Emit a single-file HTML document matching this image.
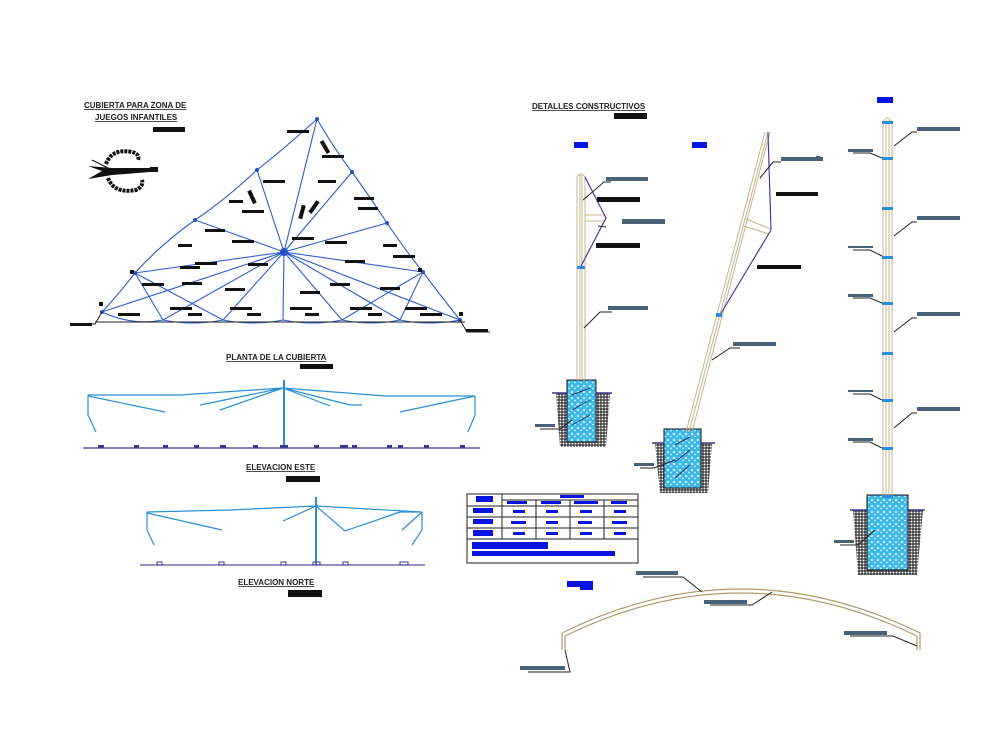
<!DOCTYPE html>
<html><head><meta charset="utf-8"><style>
html,body{margin:0;padding:0;background:#fff;}
svg{display:block;}
text{font-family:"Liberation Sans",sans-serif;font-weight:bold;font-size:8px;fill:#222;text-decoration:underline;}
</style></head><body>
<svg width="1000" height="751" viewBox="0 0 1000 751" xmlns="http://www.w3.org/2000/svg">
<defs>
<pattern id="soil" width="3" height="3" patternUnits="userSpaceOnUse"><rect width="3" height="3" fill="#888"/><circle cx="1" cy="1" r="0.9" fill="#222"/><circle cx="2.5" cy="2.5" r="0.6" fill="#fff"/></pattern>
<pattern id="conc" width="6" height="6" patternUnits="userSpaceOnUse"><rect width="6" height="6" fill="#3ab7ea"/><circle cx="2" cy="2" r="1.3" fill="#bfeaff"/><circle cx="5" cy="4.5" r="0.9" fill="#e6f7ff"/></pattern>
</defs>

<!-- Titles -->
<text x="84" y="108">CUBIERTA PARA ZONA DE</text>
<text x="95" y="120">JUEGOS INFANTILES</text>
<rect x="153" y="127" width="32" height="5" fill="#111"/>
<text x="532" y="109">DETALLES CONSTRUCTIVOS</text>
<rect x="614" y="113" width="33" height="6" fill="#111"/>
<text x="226" y="360">PLANTA DE LA CUBIERTA</text>
<rect x="300" y="364" width="33" height="5" fill="#111"/>
<text x="246" y="470">ELEVACION ESTE</text>
<rect x="286" y="476" width="34" height="6" fill="#111"/>
<text x="238" y="585">ELEVACION NORTE</text>
<rect x="288" y="590" width="34" height="7" fill="#111"/>

<!-- Compass -->
<g>
<path d="M88 166 L102 171 L88 179 L112 175 L150 172 L150 168 L112 168 Z" fill="#111"/>
<rect x="150" y="167" width="8" height="5" fill="#111"/>
<path d="M92 160 L112 170" stroke="#111" stroke-width="1"/>
<path d="M106 164 Q112 148 132 152 Q140 154 138 160" fill="none" stroke="#111" stroke-width="4" stroke-dasharray="3 1"/>
<path d="M108 178 Q114 194 136 190 Q144 186 142 180" fill="none" stroke="#111" stroke-width="4" stroke-dasharray="3 1"/>
</g>

<!-- Triangle plan -->
<g stroke="#2d5fcc" stroke-width="1.1" fill="none">
<path d="M317 119 Q285 148 257 170 Q225 200 195 220 Q160 245 135 273 Q118 295 102 312"/>
<path d="M317 119 Q335 150 352 172 Q372 200 387 223 Q405 250 423 272 Q440 295 460 320"/>
<path d="M102 312 Q132 326 163 320 Q193 326 223 320 Q253 326 283 320 Q313 326 342 320 Q372 326 400 320 Q430 326 460 320"/>
<path d="M284 252 L317 119 M284 252 L257 170 M284 252 L352 172 M284 252 L195 220 M284 252 L387 223 M284 252 L135 273 M284 252 L423 272 M284 252 L102 312 M284 252 L460 320 M284 252 L163 320 M284 252 L223 320 M284 252 L283 320 M284 252 L342 320 M284 252 L400 320"/>
<path d="M135 273 L163 320 M423 272 L400 320 M135 273 L223 320 M423 272 L342 320"/>
</g>
<g fill="#2a4fbf"><circle cx="284" cy="252" r="4"/><circle cx="317" cy="119" r="2"/><circle cx="257" cy="170" r="2"/><circle cx="352" cy="172" r="2"/><circle cx="195" cy="220" r="2"/><circle cx="387" cy="223" r="2"/><circle cx="135" cy="273" r="2"/><circle cx="423" cy="272" r="2"/><circle cx="102" cy="312" r="2"/><circle cx="460" cy="320" r="2"/></g>
<path d="M95 322 L465 322 M70 324 L95 324 L102 312 M460 320 L467 332 L490 332" stroke="#222" stroke-width="1" fill="none"/>
<g fill="#111">
<rect x="287" y="130" width="22" height="3"/><rect x="323" y="140" width="4" height="14" transform="rotate(-30 325 147)"/>
<rect x="322" y="155" width="22" height="3"/><rect x="263" y="180" width="22" height="3"/><rect x="318" y="180" width="18" height="3"/>
<rect x="229" y="200" width="14" height="3"/><rect x="242" y="210" width="22" height="3"/><rect x="354" y="197" width="20" height="3"/><rect x="358" y="207" width="20" height="3"/>
<rect x="205" y="229" width="20" height="3"/><rect x="232" y="240" width="22" height="3"/><rect x="292" y="237" width="22" height="3"/><rect x="325" y="241" width="22" height="3"/>
<rect x="178" y="244" width="14" height="3"/><rect x="383" y="244" width="14" height="3"/><rect x="393" y="255" width="22" height="3"/>
<rect x="195" y="262" width="22" height="3"/><rect x="180" y="266" width="20" height="3"/><rect x="248" y="263" width="20" height="3"/><rect x="345" y="260" width="20" height="3"/>
<rect x="142" y="283" width="22" height="3"/><rect x="182" y="282" width="20" height="3"/><rect x="225" y="288" width="20" height="3"/><rect x="300" y="291" width="20" height="3"/><rect x="330" y="283" width="20" height="3"/><rect x="380" y="287" width="20" height="3"/>
<rect x="170" y="307" width="22" height="3"/><rect x="230" y="307" width="22" height="3"/><rect x="290" y="307" width="22" height="3"/><rect x="350" y="307" width="22" height="3"/><rect x="405" y="307" width="22" height="3"/>
<rect x="118" y="313" width="22" height="3"/><rect x="188" y="313" width="14" height="3"/><rect x="247" y="313" width="14" height="3"/><rect x="305" y="313" width="14" height="3"/><rect x="368" y="313" width="14" height="3"/><rect x="420" y="313" width="22" height="3"/>
<rect x="99" y="302" width="4" height="4"/><rect x="459" y="312" width="4" height="4"/><rect x="130" y="270" width="4" height="4"/><rect x="418" y="268" width="4" height="4"/>
<rect x="466" y="329" width="22" height="3"/><rect x="70" y="323" width="22" height="3"/>
<rect x="250" y="190" width="4" height="14" transform="rotate(-25 252 197)"/><rect x="300" y="205" width="4" height="14" transform="rotate(15 302 212)"/><rect x="312" y="200" width="4" height="14" transform="rotate(35 314 207)"/>
</g>

<!-- Elevacion Este -->
<g stroke="#2a8fd6" stroke-width="1.2" fill="none">
<path d="M88 395 L88 415 L96 432 M88 395 L180 395 L283 388 M88 396 L165 412 M283 388 L200 405 M283 388 L220 410 M283 388 L330 406 M283 388 L350 405 L362 405 M283 388 L385 396 L475 396 M475 396 L400 412 M475 396 L475 415 L468 432"/>
<path d="M284 380 L284 448" stroke-width="2"/>
</g>
<path d="M83 448 L480 448" stroke="#3a3a8a" stroke-width="1.2"/>
<g fill="#3a3a8a"><rect x="98" y="445" width="6" height="3"/><rect x="134" y="445" width="5" height="3"/><rect x="163" y="445" width="5" height="3"/><rect x="194" y="445" width="5" height="3"/><rect x="220" y="445" width="6" height="3"/><rect x="253" y="445" width="5" height="3"/><rect x="280" y="445" width="8" height="3"/><rect x="314" y="445" width="5" height="3"/><rect x="340" y="445" width="8" height="3"/><rect x="352" y="445" width="5" height="3"/><rect x="387" y="445" width="5" height="3"/><rect x="398" y="445" width="5" height="3"/><rect x="424" y="445" width="5" height="3"/><rect x="460" y="445" width="5" height="3"/></g>

<!-- Elevacion Norte -->
<g stroke="#2a8fd6" stroke-width="1.2" fill="none">
<path d="M147 512 L147 530 L154 545 M147 512 L230 510 L316 506 M147 513 L222 530 M316 506 L283 521 M316 506 L345 531 L400 512 L422 512 M316 506 L422 512 M422 512 L402 530 M422 512 L422 530 L412 545 M316 506 L318 505"/>
<path d="M316 497 L316 565" stroke-width="2"/>
</g>
<path d="M140 565 L425 565" stroke="#5a4a9a" stroke-width="1.2"/>
<g fill="none" stroke="#3a3a8a"><rect x="157" y="562" width="5" height="3"/><rect x="219" y="562" width="5" height="3"/><rect x="281" y="562" width="5" height="3"/><rect x="313" y="562" width="7" height="3"/><rect x="343" y="562" width="5" height="3"/><rect x="400" y="562" width="8" height="3"/></g>

<!-- Table -->
<g stroke="#222" stroke-width="1" fill="none">
<rect x="467" y="494" width="171" height="69"/>
<path d="M502 494 V539 M536 500 V539 M570 500 V539 M604 500 V539 M502 500 H638 M467 506 H638 M467 517 H638 M467 528 H638 M467 539 H638"/>
</g>
<g fill="#0a14e0">
<rect x="476" y="496" width="17" height="6"/><rect x="560" y="495" width="24" height="3"/>
<rect x="507" y="501" width="20" height="3"/><rect x="541" y="501" width="20" height="3"/><rect x="574" y="501" width="24" height="3"/><rect x="611" y="501" width="16" height="3"/>
<rect x="473" y="508" width="20" height="5"/><rect x="473" y="519" width="20" height="5"/><rect x="473" y="530" width="20" height="6"/>
<rect x="513" y="510" width="12" height="3"/><rect x="546" y="510" width="12" height="3"/><rect x="580" y="510" width="12" height="3"/><rect x="614" y="510" width="12" height="3"/>
<rect x="511" y="521" width="15" height="3"/><rect x="546" y="521" width="12" height="3"/><rect x="578" y="521" width="14" height="3"/><rect x="612" y="521" width="15" height="3"/>
<rect x="513" y="532" width="12" height="3"/><rect x="546" y="532" width="12" height="3"/><rect x="580" y="532" width="12" height="3"/><rect x="614" y="532" width="12" height="3"/>
<rect x="472" y="542" width="76" height="7"/><rect x="472" y="551" width="143" height="5"/>
<rect x="567" y="581" width="26" height="6"/><rect x="580" y="586" width="13" height="4"/>
<rect x="574" y="142" width="14" height="6"/><rect x="692" y="142" width="15" height="6"/><rect x="877" y="97" width="16" height="6"/>
</g>

<!-- Arch -->
<g fill="none" stroke="#b59a6e" stroke-width="1.2">
<path d="M562 633 Q740 545 920 633"/>
<path d="M565 636 Q740 550 917 636"/>
<path d="M562 633 L562 650 M565 636 L565 650 M920 633 L920 650 M917 636 L917 650"/>
</g>
<g stroke="#222" fill="none" stroke-width="1"><path d="M643 577 L683 577 L702 592 M710 605 L752 605 L772 592 M850 636 L893 636 L917 646 M528 672 L570 672 L565 650"/></g>
<g fill="#4a6278"><rect x="636" y="571" width="42" height="4"/><rect x="704" y="600" width="43" height="4"/><rect x="844" y="631" width="43" height="4"/><rect x="520" y="666" width="45" height="4"/></g>

<!-- Detail 1 -->
<g fill="url(#soil)"><path d="M556 393 L567 393 L567 442 L596 442 L596 393 L610 393 L606 447 L560 447 Z"/></g>
<rect x="567" y="380" width="29" height="62" fill="url(#conc)" stroke="#111"/>
<path d="M552 393 L567 393 M596 393 L612 393" stroke="#3a3a8a" stroke-width="1.5"/>
<path d="M572 395 L590 388 M572 410 L590 400 M572 425 L590 415" stroke="#1a4060" stroke-width="1"/>
<g fill="none" stroke="#c8b48c" stroke-width="1"><path d="M577 380 L577 177 Q581 171 585 177 L585 380 M580 380 L580 175 M582 380 L582 175"/><path d="M585 215 L605 215 M585 221 L605 221"/></g>
<path d="M585 177 L606 218 L580 268" stroke="#4a3aa0" stroke-width="1.2" fill="none"/>
<rect x="577" y="266" width="8" height="3" fill="#2a8fd6"/>
<g stroke="#222" fill="none"><path d="M611 182 L604 182 L583 200 M598 226 L606 227 M612 312 L600 312 L584 328 M540 429 L560 429 L572 420"/></g>
<g fill="#4a6278"><rect x="606" y="177" width="42" height="4"/><rect x="622" y="219" width="43" height="5"/><rect x="608" y="306" width="40" height="4"/><rect x="535" y="424" width="20" height="3"/></g>
<g fill="#111"><rect x="597" y="197" width="43" height="5"/><rect x="596" y="243" width="44" height="5"/></g>

<!-- Detail 2 -->
<g fill="url(#soil)"><path d="M655 443 L664 443 L664 488 L701 488 L701 443 L712 443 L708 493 L660 493 Z"/></g>
<rect x="664" y="429" width="37" height="59" fill="url(#conc)" stroke="#111"/>
<path d="M652 443 L664 443 M701 443 L715 443" stroke="#3a3a8a" stroke-width="1.5"/>
<path d="M675 445 L690 437 M675 462 L690 450 M675 478 L690 465" stroke="#1a4060"/>
<g fill="none" stroke="#c8b48c" stroke-width="1"><path d="M686 432 L765 132 M692 432 L770 132 M689 432 L768 132"/><path d="M746 219 L771 229 M744 226 L769 234"/></g>
<path d="M768 132 L771 230 L720 315" stroke="#4a3aa0" stroke-width="1.2" fill="none"/>
<rect x="716" y="313" width="6" height="4" fill="#2a8fd6"/>
<g stroke="#222" fill="none"><path d="M781 162 L773 162 L760 178 M740 348 L730 348 L712 360 M640 468 L654 468 L675 460"/></g>
<g fill="#4a6278"><rect x="781" y="157" width="42" height="4"/><rect x="733" y="342" width="43" height="4"/><rect x="634" y="463" width="20" height="3"/></g>
<g fill="#111"><rect x="776" y="192" width="42" height="4"/><rect x="757" y="265" width="44" height="4"/></g>

<!-- Detail 3 -->
<g fill="url(#soil)"><path d="M853 510 L867 510 L867 570 L908 570 L908 510 L923 510 L917 575 L858 575 Z"/></g>
<rect x="867" y="495" width="41" height="75" fill="url(#conc)" stroke="#111"/>
<path d="M850 510 L867 510 M908 510 L925 510" stroke="#3a3a8a" stroke-width="1.5"/>
<g fill="none" stroke="#c8b48c" stroke-width="1"><path d="M883 495 L883 122 Q887 114 892 122 L892 495 M886 495 L886 120 M889 495 L889 120"/></g>
<g fill="#2a8fd6"><rect x="882" y="121" width="11" height="3"/><rect x="882" y="157" width="11" height="3"/><rect x="882" y="207" width="11" height="3"/><rect x="882" y="256" width="11" height="3"/><rect x="882" y="302" width="11" height="3"/><rect x="882" y="352" width="11" height="3"/><rect x="882" y="399" width="11" height="3"/><rect x="882" y="447" width="11" height="3"/><rect x="882" y="495" width="11" height="3"/></g>
<g stroke="#222" fill="none"><path d="M917 132 L912 132 L894 146 M917 222 L912 222 L894 236 M917 318 L912 318 L894 332 M917 413 L912 413 L894 428 M853 153 L870 153 L882 158 M853 250 L870 250 L882 256 M853 298 L870 298 L882 303 M853 394 L870 394 L882 400 M853 442 L870 442 L882 448 M840 545 L858 545 L875 530"/></g>
<g fill="#4a6278"><rect x="917" y="127" width="43" height="4"/><rect x="917" y="216" width="43" height="4"/><rect x="917" y="312" width="43" height="4"/><rect x="917" y="407" width="43" height="4"/><rect x="848" y="149" width="25" height="3"/><rect x="848" y="246" width="25" height="2"/><rect x="848" y="294" width="25" height="3"/><rect x="848" y="390" width="25" height="2"/><rect x="848" y="438" width="25" height="3"/><rect x="834" y="540" width="20" height="3"/><rect x="816" y="156" width="4" height="4"/></g>
</svg>
</body></html>
